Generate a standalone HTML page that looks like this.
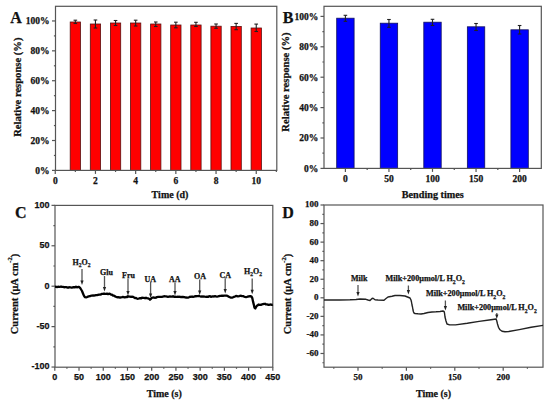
<!DOCTYPE html>
<html><head><meta charset="utf-8"><style>
html,body{margin:0;padding:0;background:#fff;}
body{width:550px;height:404px;overflow:hidden;}
svg{display:block;}
text{fill:#111;stroke:#111;stroke-width:0.25px;}
</style></head><body>
<svg width="550" height="404" viewBox="0 0 550 404">
<rect width="550" height="404" fill="#fff"/>
<rect x="70.20" y="22.00" width="10.30" height="148.40" fill="#ff0000" stroke="#5a1010" stroke-width="0.8"/>
<line x1="75.35" y1="20.20" x2="75.35" y2="23.50" stroke="#222" stroke-width="1.1"/>
<line x1="73.55" y1="20.20" x2="77.15" y2="20.20" stroke="#222" stroke-width="1.1"/>
<line x1="73.55" y1="23.50" x2="77.15" y2="23.50" stroke="#222" stroke-width="1.1"/>
<rect x="90.30" y="24.00" width="10.30" height="146.40" fill="#ff0000" stroke="#5a1010" stroke-width="0.8"/>
<line x1="95.45" y1="20.00" x2="95.45" y2="28.00" stroke="#222" stroke-width="1.1"/>
<line x1="93.65" y1="20.00" x2="97.25" y2="20.00" stroke="#222" stroke-width="1.1"/>
<line x1="93.65" y1="28.00" x2="97.25" y2="28.00" stroke="#222" stroke-width="1.1"/>
<rect x="110.40" y="23.00" width="10.30" height="147.40" fill="#ff0000" stroke="#5a1010" stroke-width="0.8"/>
<line x1="115.55" y1="20.50" x2="115.55" y2="25.50" stroke="#222" stroke-width="1.1"/>
<line x1="113.75" y1="20.50" x2="117.35" y2="20.50" stroke="#222" stroke-width="1.1"/>
<line x1="113.75" y1="25.50" x2="117.35" y2="25.50" stroke="#222" stroke-width="1.1"/>
<rect x="130.50" y="23.00" width="10.30" height="147.40" fill="#ff0000" stroke="#5a1010" stroke-width="0.8"/>
<line x1="135.65" y1="20.20" x2="135.65" y2="26.00" stroke="#222" stroke-width="1.1"/>
<line x1="133.85" y1="20.20" x2="137.45" y2="20.20" stroke="#222" stroke-width="1.1"/>
<line x1="133.85" y1="26.00" x2="137.45" y2="26.00" stroke="#222" stroke-width="1.1"/>
<rect x="150.60" y="24.00" width="10.30" height="146.40" fill="#ff0000" stroke="#5a1010" stroke-width="0.8"/>
<line x1="155.75" y1="22.00" x2="155.75" y2="26.50" stroke="#222" stroke-width="1.1"/>
<line x1="153.95" y1="22.00" x2="157.55" y2="22.00" stroke="#222" stroke-width="1.1"/>
<line x1="153.95" y1="26.50" x2="157.55" y2="26.50" stroke="#222" stroke-width="1.1"/>
<rect x="170.70" y="25.00" width="10.30" height="145.40" fill="#ff0000" stroke="#5a1010" stroke-width="0.8"/>
<line x1="175.85" y1="22.20" x2="175.85" y2="27.80" stroke="#222" stroke-width="1.1"/>
<line x1="174.05" y1="22.20" x2="177.65" y2="22.20" stroke="#222" stroke-width="1.1"/>
<line x1="174.05" y1="27.80" x2="177.65" y2="27.80" stroke="#222" stroke-width="1.1"/>
<rect x="190.80" y="25.00" width="10.30" height="145.40" fill="#ff0000" stroke="#5a1010" stroke-width="0.8"/>
<line x1="195.95" y1="22.30" x2="195.95" y2="26.50" stroke="#222" stroke-width="1.1"/>
<line x1="194.15" y1="22.30" x2="197.75" y2="22.30" stroke="#222" stroke-width="1.1"/>
<line x1="194.15" y1="26.50" x2="197.75" y2="26.50" stroke="#222" stroke-width="1.1"/>
<rect x="210.90" y="26.20" width="10.30" height="144.20" fill="#ff0000" stroke="#5a1010" stroke-width="0.8"/>
<line x1="216.05" y1="24.00" x2="216.05" y2="28.30" stroke="#222" stroke-width="1.1"/>
<line x1="214.25" y1="24.00" x2="217.85" y2="24.00" stroke="#222" stroke-width="1.1"/>
<line x1="214.25" y1="28.30" x2="217.85" y2="28.30" stroke="#222" stroke-width="1.1"/>
<rect x="231.00" y="26.40" width="10.30" height="144.00" fill="#ff0000" stroke="#5a1010" stroke-width="0.8"/>
<line x1="236.15" y1="23.40" x2="236.15" y2="29.70" stroke="#222" stroke-width="1.1"/>
<line x1="234.35" y1="23.40" x2="237.95" y2="23.40" stroke="#222" stroke-width="1.1"/>
<line x1="234.35" y1="29.70" x2="237.95" y2="29.70" stroke="#222" stroke-width="1.1"/>
<rect x="251.10" y="28.00" width="10.30" height="142.40" fill="#ff0000" stroke="#5a1010" stroke-width="0.8"/>
<line x1="256.25" y1="24.10" x2="256.25" y2="31.50" stroke="#222" stroke-width="1.1"/>
<line x1="254.45" y1="24.10" x2="258.05" y2="24.10" stroke="#222" stroke-width="1.1"/>
<line x1="254.45" y1="31.50" x2="258.05" y2="31.50" stroke="#222" stroke-width="1.1"/>
<rect x="55.50" y="6.30" width="221.30" height="164.10" fill="none" stroke="#555" stroke-width="1.2"/>
<line x1="52.00" y1="170.40" x2="55.50" y2="170.40" stroke="#555" stroke-width="1.2"/>
<text x="49.50" y="173.70" font-size="9.5" text-anchor="end" font-family='"Liberation Serif", serif' font-weight="bold" >0%</text>
<line x1="52.00" y1="140.51" x2="55.50" y2="140.51" stroke="#555" stroke-width="1.2"/>
<text x="49.50" y="143.81" font-size="9.5" text-anchor="end" font-family='"Liberation Serif", serif' font-weight="bold" >20%</text>
<line x1="52.00" y1="110.62" x2="55.50" y2="110.62" stroke="#555" stroke-width="1.2"/>
<text x="49.50" y="113.92" font-size="9.5" text-anchor="end" font-family='"Liberation Serif", serif' font-weight="bold" >40%</text>
<line x1="52.00" y1="80.73" x2="55.50" y2="80.73" stroke="#555" stroke-width="1.2"/>
<text x="49.50" y="84.03" font-size="9.5" text-anchor="end" font-family='"Liberation Serif", serif' font-weight="bold" >60%</text>
<line x1="52.00" y1="50.84" x2="55.50" y2="50.84" stroke="#555" stroke-width="1.2"/>
<text x="49.50" y="54.14" font-size="9.5" text-anchor="end" font-family='"Liberation Serif", serif' font-weight="bold" >80%</text>
<line x1="52.00" y1="20.95" x2="55.50" y2="20.95" stroke="#555" stroke-width="1.2"/>
<text x="49.50" y="24.25" font-size="9.5" text-anchor="end" font-family='"Liberation Serif", serif' font-weight="bold" >100%</text>
<line x1="53.90" y1="155.46" x2="55.50" y2="155.46" stroke="#555" stroke-width="1.2"/>
<line x1="53.90" y1="125.56" x2="55.50" y2="125.56" stroke="#555" stroke-width="1.2"/>
<line x1="53.90" y1="95.68" x2="55.50" y2="95.68" stroke="#555" stroke-width="1.2"/>
<line x1="53.90" y1="65.79" x2="55.50" y2="65.79" stroke="#555" stroke-width="1.2"/>
<line x1="53.90" y1="35.90" x2="55.50" y2="35.90" stroke="#555" stroke-width="1.2"/>
<line x1="55.25" y1="170.40" x2="55.25" y2="173.90" stroke="#555" stroke-width="1.2"/>
<text x="55.25" y="184.00" font-size="9.5" text-anchor="middle" font-family='"Liberation Serif", serif' font-weight="bold" >0</text>
<line x1="95.45" y1="170.40" x2="95.45" y2="173.90" stroke="#555" stroke-width="1.2"/>
<text x="95.45" y="184.00" font-size="9.5" text-anchor="middle" font-family='"Liberation Serif", serif' font-weight="bold" >2</text>
<line x1="135.65" y1="170.40" x2="135.65" y2="173.90" stroke="#555" stroke-width="1.2"/>
<text x="135.65" y="184.00" font-size="9.5" text-anchor="middle" font-family='"Liberation Serif", serif' font-weight="bold" >4</text>
<line x1="175.85" y1="170.40" x2="175.85" y2="173.90" stroke="#555" stroke-width="1.2"/>
<text x="175.85" y="184.00" font-size="9.5" text-anchor="middle" font-family='"Liberation Serif", serif' font-weight="bold" >6</text>
<line x1="216.05" y1="170.40" x2="216.05" y2="173.90" stroke="#555" stroke-width="1.2"/>
<text x="216.05" y="184.00" font-size="9.5" text-anchor="middle" font-family='"Liberation Serif", serif' font-weight="bold" >8</text>
<line x1="256.25" y1="170.40" x2="256.25" y2="173.90" stroke="#555" stroke-width="1.2"/>
<text x="256.25" y="184.00" font-size="9.5" text-anchor="middle" font-family='"Liberation Serif", serif' font-weight="bold" >10</text>
<line x1="75.35" y1="170.40" x2="75.35" y2="172.00" stroke="#555" stroke-width="1.2"/>
<line x1="115.55" y1="170.40" x2="115.55" y2="172.00" stroke="#555" stroke-width="1.2"/>
<line x1="155.75" y1="170.40" x2="155.75" y2="172.00" stroke="#555" stroke-width="1.2"/>
<line x1="195.95" y1="170.40" x2="195.95" y2="172.00" stroke="#555" stroke-width="1.2"/>
<line x1="236.15" y1="170.40" x2="236.15" y2="172.00" stroke="#555" stroke-width="1.2"/>
<line x1="276.35" y1="170.40" x2="276.35" y2="172.00" stroke="#555" stroke-width="1.2"/>
<text x="170.00" y="198.30" font-size="10" text-anchor="middle" font-family='"Liberation Serif", serif' font-weight="bold" >Time (d)</text>
<text x="21.10" y="87.20" font-size="10.6" text-anchor="middle" font-family='"Liberation Serif", serif' font-weight="bold" transform="rotate(-90 21.1 87.2)">Relative response (%)</text>
<text x="16.00" y="23.00" font-size="16" text-anchor="middle" font-family='"Liberation Serif", serif' font-weight="bold" >A</text>
<rect x="336.70" y="18.20" width="17.40" height="150.20" fill="#0000ff" stroke="#101060" stroke-width="0.8"/>
<line x1="345.40" y1="15.30" x2="345.40" y2="21.30" stroke="#222" stroke-width="1.1"/>
<line x1="343.60" y1="15.30" x2="347.20" y2="15.30" stroke="#222" stroke-width="1.1"/>
<line x1="343.60" y1="21.30" x2="347.20" y2="21.30" stroke="#222" stroke-width="1.1"/>
<rect x="380.25" y="23.20" width="17.40" height="145.20" fill="#0000ff" stroke="#101060" stroke-width="0.8"/>
<line x1="388.95" y1="19.50" x2="388.95" y2="27.30" stroke="#222" stroke-width="1.1"/>
<line x1="387.15" y1="19.50" x2="390.75" y2="19.50" stroke="#222" stroke-width="1.1"/>
<line x1="387.15" y1="27.30" x2="390.75" y2="27.30" stroke="#222" stroke-width="1.1"/>
<rect x="423.80" y="22.20" width="17.40" height="146.20" fill="#0000ff" stroke="#101060" stroke-width="0.8"/>
<line x1="432.50" y1="19.30" x2="432.50" y2="25.50" stroke="#222" stroke-width="1.1"/>
<line x1="430.70" y1="19.30" x2="434.30" y2="19.30" stroke="#222" stroke-width="1.1"/>
<line x1="430.70" y1="25.50" x2="434.30" y2="25.50" stroke="#222" stroke-width="1.1"/>
<rect x="467.35" y="26.80" width="17.40" height="141.60" fill="#0000ff" stroke="#101060" stroke-width="0.8"/>
<line x1="476.05" y1="23.50" x2="476.05" y2="30.50" stroke="#222" stroke-width="1.1"/>
<line x1="474.25" y1="23.50" x2="477.85" y2="23.50" stroke="#222" stroke-width="1.1"/>
<line x1="474.25" y1="30.50" x2="477.85" y2="30.50" stroke="#222" stroke-width="1.1"/>
<rect x="510.90" y="29.80" width="17.40" height="138.60" fill="#0000ff" stroke="#101060" stroke-width="0.8"/>
<line x1="519.60" y1="25.50" x2="519.60" y2="34.00" stroke="#222" stroke-width="1.1"/>
<line x1="517.80" y1="25.50" x2="521.40" y2="25.50" stroke="#222" stroke-width="1.1"/>
<line x1="517.80" y1="34.00" x2="521.40" y2="34.00" stroke="#222" stroke-width="1.1"/>
<rect x="324.00" y="6.30" width="217.30" height="162.10" fill="none" stroke="#555" stroke-width="1.2"/>
<line x1="320.50" y1="168.40" x2="324.00" y2="168.40" stroke="#555" stroke-width="1.2"/>
<text x="318.30" y="171.70" font-size="9.5" text-anchor="end" font-family='"Liberation Serif", serif' font-weight="bold" >0%</text>
<line x1="320.50" y1="138.00" x2="324.00" y2="138.00" stroke="#555" stroke-width="1.2"/>
<text x="318.30" y="141.30" font-size="9.5" text-anchor="end" font-family='"Liberation Serif", serif' font-weight="bold" >20%</text>
<line x1="320.50" y1="107.60" x2="324.00" y2="107.60" stroke="#555" stroke-width="1.2"/>
<text x="318.30" y="110.90" font-size="9.5" text-anchor="end" font-family='"Liberation Serif", serif' font-weight="bold" >40%</text>
<line x1="320.50" y1="77.20" x2="324.00" y2="77.20" stroke="#555" stroke-width="1.2"/>
<text x="318.30" y="80.50" font-size="9.5" text-anchor="end" font-family='"Liberation Serif", serif' font-weight="bold" >60%</text>
<line x1="320.50" y1="46.80" x2="324.00" y2="46.80" stroke="#555" stroke-width="1.2"/>
<text x="318.30" y="50.10" font-size="9.5" text-anchor="end" font-family='"Liberation Serif", serif' font-weight="bold" >80%</text>
<line x1="320.50" y1="16.40" x2="324.00" y2="16.40" stroke="#555" stroke-width="1.2"/>
<text x="318.30" y="19.70" font-size="9.5" text-anchor="end" font-family='"Liberation Serif", serif' font-weight="bold" >100%</text>
<line x1="322.40" y1="153.20" x2="324.00" y2="153.20" stroke="#555" stroke-width="1.2"/>
<line x1="322.40" y1="122.80" x2="324.00" y2="122.80" stroke="#555" stroke-width="1.2"/>
<line x1="322.40" y1="92.40" x2="324.00" y2="92.40" stroke="#555" stroke-width="1.2"/>
<line x1="322.40" y1="62.00" x2="324.00" y2="62.00" stroke="#555" stroke-width="1.2"/>
<line x1="322.40" y1="31.60" x2="324.00" y2="31.60" stroke="#555" stroke-width="1.2"/>
<line x1="345.40" y1="168.40" x2="345.40" y2="171.90" stroke="#555" stroke-width="1.2"/>
<text x="345.40" y="181.50" font-size="9.5" text-anchor="middle" font-family='"Liberation Serif", serif' font-weight="bold" >0</text>
<line x1="388.95" y1="168.40" x2="388.95" y2="171.90" stroke="#555" stroke-width="1.2"/>
<text x="388.95" y="181.50" font-size="9.5" text-anchor="middle" font-family='"Liberation Serif", serif' font-weight="bold" >50</text>
<line x1="432.50" y1="168.40" x2="432.50" y2="171.90" stroke="#555" stroke-width="1.2"/>
<text x="432.50" y="181.50" font-size="9.5" text-anchor="middle" font-family='"Liberation Serif", serif' font-weight="bold" >100</text>
<line x1="476.05" y1="168.40" x2="476.05" y2="171.90" stroke="#555" stroke-width="1.2"/>
<text x="476.05" y="181.50" font-size="9.5" text-anchor="middle" font-family='"Liberation Serif", serif' font-weight="bold" >150</text>
<line x1="519.60" y1="168.40" x2="519.60" y2="171.90" stroke="#555" stroke-width="1.2"/>
<text x="519.60" y="181.50" font-size="9.5" text-anchor="middle" font-family='"Liberation Serif", serif' font-weight="bold" >200</text>
<line x1="367.17" y1="168.40" x2="367.17" y2="170.00" stroke="#555" stroke-width="1.2"/>
<line x1="410.72" y1="168.40" x2="410.72" y2="170.00" stroke="#555" stroke-width="1.2"/>
<line x1="454.27" y1="168.40" x2="454.27" y2="170.00" stroke="#555" stroke-width="1.2"/>
<line x1="497.82" y1="168.40" x2="497.82" y2="170.00" stroke="#555" stroke-width="1.2"/>
<text x="432.80" y="198.00" font-size="10.2" text-anchor="middle" font-family='"Liberation Serif", serif' font-weight="bold" >Bending times</text>
<text x="289.10" y="82.00" font-size="10.6" text-anchor="middle" font-family='"Liberation Serif", serif' font-weight="bold" transform="rotate(-90 289.1 82)">Relative response (%)</text>
<text x="288.00" y="23.00" font-size="16" text-anchor="middle" font-family='"Liberation Serif", serif' font-weight="bold" >B</text>
<rect x="55.00" y="205.40" width="217.80" height="161.80" fill="none" stroke="#555" stroke-width="1.2"/>
<line x1="51.50" y1="367.05" x2="55.00" y2="367.05" stroke="#555" stroke-width="1.2"/>
<text x="49.50" y="369.45" font-size="9" text-anchor="end" font-family='"Liberation Sans", sans-serif' font-weight="bold" >-100</text>
<line x1="51.50" y1="326.62" x2="55.00" y2="326.62" stroke="#555" stroke-width="1.2"/>
<text x="49.50" y="329.02" font-size="9" text-anchor="end" font-family='"Liberation Sans", sans-serif' font-weight="bold" >-50</text>
<line x1="51.50" y1="286.20" x2="55.00" y2="286.20" stroke="#555" stroke-width="1.2"/>
<text x="49.50" y="288.60" font-size="9" text-anchor="end" font-family='"Liberation Sans", sans-serif' font-weight="bold" >0</text>
<line x1="51.50" y1="245.77" x2="55.00" y2="245.77" stroke="#555" stroke-width="1.2"/>
<text x="49.50" y="248.17" font-size="9" text-anchor="end" font-family='"Liberation Sans", sans-serif' font-weight="bold" >50</text>
<line x1="51.50" y1="205.35" x2="55.00" y2="205.35" stroke="#555" stroke-width="1.2"/>
<text x="49.50" y="207.75" font-size="9" text-anchor="end" font-family='"Liberation Sans", sans-serif' font-weight="bold" >100</text>
<line x1="53.40" y1="346.84" x2="55.00" y2="346.84" stroke="#555" stroke-width="1.2"/>
<line x1="53.40" y1="306.41" x2="55.00" y2="306.41" stroke="#555" stroke-width="1.2"/>
<line x1="53.40" y1="265.99" x2="55.00" y2="265.99" stroke="#555" stroke-width="1.2"/>
<line x1="53.40" y1="225.56" x2="55.00" y2="225.56" stroke="#555" stroke-width="1.2"/>
<line x1="54.80" y1="367.20" x2="54.80" y2="370.70" stroke="#555" stroke-width="1.2"/>
<text x="54.80" y="380.30" font-size="9" text-anchor="middle" font-family='"Liberation Sans", sans-serif' font-weight="bold" >0</text>
<line x1="79.02" y1="367.20" x2="79.02" y2="370.70" stroke="#555" stroke-width="1.2"/>
<text x="79.02" y="380.30" font-size="9" text-anchor="middle" font-family='"Liberation Sans", sans-serif' font-weight="bold" >50</text>
<line x1="103.25" y1="367.20" x2="103.25" y2="370.70" stroke="#555" stroke-width="1.2"/>
<text x="103.25" y="380.30" font-size="9" text-anchor="middle" font-family='"Liberation Sans", sans-serif' font-weight="bold" >100</text>
<line x1="127.47" y1="367.20" x2="127.47" y2="370.70" stroke="#555" stroke-width="1.2"/>
<text x="127.47" y="380.30" font-size="9" text-anchor="middle" font-family='"Liberation Sans", sans-serif' font-weight="bold" >150</text>
<line x1="151.70" y1="367.20" x2="151.70" y2="370.70" stroke="#555" stroke-width="1.2"/>
<text x="151.70" y="380.30" font-size="9" text-anchor="middle" font-family='"Liberation Sans", sans-serif' font-weight="bold" >200</text>
<line x1="175.93" y1="367.20" x2="175.93" y2="370.70" stroke="#555" stroke-width="1.2"/>
<text x="175.93" y="380.30" font-size="9" text-anchor="middle" font-family='"Liberation Sans", sans-serif' font-weight="bold" >250</text>
<line x1="200.15" y1="367.20" x2="200.15" y2="370.70" stroke="#555" stroke-width="1.2"/>
<text x="200.15" y="380.30" font-size="9" text-anchor="middle" font-family='"Liberation Sans", sans-serif' font-weight="bold" >300</text>
<line x1="224.38" y1="367.20" x2="224.38" y2="370.70" stroke="#555" stroke-width="1.2"/>
<text x="224.38" y="380.30" font-size="9" text-anchor="middle" font-family='"Liberation Sans", sans-serif' font-weight="bold" >350</text>
<line x1="248.60" y1="367.20" x2="248.60" y2="370.70" stroke="#555" stroke-width="1.2"/>
<text x="248.60" y="380.30" font-size="9" text-anchor="middle" font-family='"Liberation Sans", sans-serif' font-weight="bold" >400</text>
<line x1="272.82" y1="367.20" x2="272.82" y2="370.70" stroke="#555" stroke-width="1.2"/>
<text x="272.82" y="380.30" font-size="9" text-anchor="middle" font-family='"Liberation Sans", sans-serif' font-weight="bold" >450</text>
<line x1="66.91" y1="367.20" x2="66.91" y2="368.80" stroke="#555" stroke-width="1.2"/>
<line x1="91.14" y1="367.20" x2="91.14" y2="368.80" stroke="#555" stroke-width="1.2"/>
<line x1="115.36" y1="367.20" x2="115.36" y2="368.80" stroke="#555" stroke-width="1.2"/>
<line x1="139.59" y1="367.20" x2="139.59" y2="368.80" stroke="#555" stroke-width="1.2"/>
<line x1="163.81" y1="367.20" x2="163.81" y2="368.80" stroke="#555" stroke-width="1.2"/>
<line x1="188.04" y1="367.20" x2="188.04" y2="368.80" stroke="#555" stroke-width="1.2"/>
<line x1="212.26" y1="367.20" x2="212.26" y2="368.80" stroke="#555" stroke-width="1.2"/>
<line x1="236.49" y1="367.20" x2="236.49" y2="368.80" stroke="#555" stroke-width="1.2"/>
<line x1="260.71" y1="367.20" x2="260.71" y2="368.80" stroke="#555" stroke-width="1.2"/>
<text x="164.30" y="397.40" font-size="10" text-anchor="middle" font-family='"Liberation Serif", serif' font-weight="bold" >Time (s)</text>
<text x="17.60" y="294.00" font-size="10.5" text-anchor="middle" font-family='"Liberation Serif", serif' font-weight="bold" transform="rotate(-90 17.6 294)">Current (μA cm<tspan dy="-5.2" font-size="6.5">-2</tspan><tspan dy="5.2">)</tspan></text>
<text x="20.70" y="218.30" font-size="16" text-anchor="middle" font-family='"Liberation Serif", serif' font-weight="bold" >C</text>
<polyline fill="none" stroke="#000" stroke-width="2.3" stroke-linejoin="round" points="55.0,286.88 56.0,286.76 57.0,287.11 58.0,286.7 59.0,286.96 60.0,286.77 61.0,286.49 62.0,286.97 63.0,286.81 64.0,287.25 65.0,287.07 66.0,287.15 67.0,287.45 68.0,287.73 69.0,287.24 70.0,287.31 71.0,287.49 72.0,287.61 73.0,287.25 74.0,287.06 75.0,287.4 76.0,286.68 77.0,287.32 78.0,286.99 79.0,286.95 79.75,287.58 80.5,288.5 81.25,289.75 82.0,291.0 83.0,293.5 84.0,295.87 85.0,297.22 86.0,297.28 87.0,297.06 88.0,296.6 89.0,296.24 90.0,296.2 91.0,295.69 92.0,295.53 93.0,295.46 94.0,295.63 95.0,295.28 96.0,295.04 97.0,295.06 98.0,294.8 99.0,294.53 100.0,294.71 101.0,294.39 102.0,293.82 103.0,293.8 104.0,293.52 105.0,293.85 106.0,293.83 107.0,293.6 108.0,294.17 109.0,293.65 110.0,293.94 111.0,294.68 112.0,294.76 113.0,295.49 114.0,295.55 115.0,296.37 116.0,296.81 117.0,297.05 118.0,297.43 119.0,297.2 120.0,297.64 121.0,297.4 122.0,297.22 123.0,296.97 124.0,297.24 125.0,297.31 126.0,296.98 127.0,297.11 128.0,296.19 129.0,296.64 130.0,296.6 131.0,296.85 132.0,296.73 133.0,296.85 134.0,297.42 135.0,298.12 136.0,298.0 137.0,298.64 138.0,298.77 139.0,298.48 140.0,298.19 141.0,298.44 142.0,297.74 143.0,297.82 144.0,297.92 145.0,298.26 146.0,297.71 147.0,298.13 148.0,298.37 149.0,298.77 150.0,299.72 151.0,298.9 152.0,297.64 153.0,297.64 154.0,297.5 155.0,297.77 156.0,297.72 157.0,297.06 158.0,296.97 159.0,296.91 160.0,296.81 161.0,296.89 162.0,296.86 163.0,296.53 164.0,296.25 165.0,296.44 166.0,296.41 167.0,296.55 168.0,296.82 169.0,296.63 170.0,296.51 171.0,296.58 172.0,296.62 173.0,296.19 174.0,296.78 175.0,296.7 176.0,296.86 177.0,296.91 178.0,296.72 179.0,296.83 180.0,296.72 181.0,297.19 182.0,296.89 183.0,297.0 184.0,297.2 185.0,297.26 186.0,297.55 187.0,297.52 188.0,297.65 189.0,297.26 190.0,296.72 191.0,296.8 192.0,296.47 193.0,296.96 194.0,296.68 195.0,296.25 196.0,296.23 197.0,296.19 198.0,296.1 199.0,295.84 200.0,296.24 201.0,296.55 202.0,296.38 203.0,296.59 204.0,296.51 205.0,296.72 206.0,296.79 207.0,296.64 208.0,296.93 209.0,296.36 210.0,296.17 211.0,296.82 212.0,296.52 213.0,296.25 214.0,296.53 215.0,296.17 216.0,296.42 217.0,296.63 218.0,296.45 219.0,296.24 220.0,295.83 221.0,295.81 222.0,295.57 223.0,295.89 224.0,295.62 225.0,295.7 226.0,295.55 227.0,295.64 228.0,296.22 229.0,296.84 230.0,297.25 231.0,297.71 232.0,297.56 233.0,297.33 234.0,296.81 235.0,296.51 236.0,295.9 237.0,296.07 238.0,296.47 239.0,296.25 240.0,295.83 241.0,295.73 242.0,296.15 243.0,296.03 244.0,296.61 245.0,296.84 246.0,297.02 247.0,296.81 248.0,296.5 249.0,296.31 250.0,296.09 250.75,296.19 251.5,296.59 252.3,298.1 253.0,301.4 253.8,304.6 254.5,307.78 255.3,308.54 256.0,307.09 257.0,305.61 257.75,305.36 258.5,304.51 259.75,304.76 261.0,304.79 262.0,304.45 263.0,304.18 264.0,303.98 265.0,303.77 266.0,304.45 267.0,304.38 268.0,304.74 269.0,304.9 270.0,304.53 270.93,304.5 271.87,304.85 272.8,304.5"/>
<text x="81.50" y="265.20" font-size="8" text-anchor="middle" font-family='"Liberation Serif", serif' font-weight="bold" >H<tspan dy="2.2" font-size="5.6">2</tspan><tspan dy="-2.2">O</tspan><tspan dy="2.2" font-size="5.6">2</tspan></text>
<line x1="82" y1="269" x2="82" y2="281.0" stroke="#555" stroke-width="1.3"/>
<polygon points="80.4,280.5 83.6,280.5 82,285" fill="#222"/>
<text x="106.50" y="274.50" font-size="8" text-anchor="middle" font-family='"Liberation Serif", serif' font-weight="bold" >Glu</text>
<line x1="104.5" y1="276" x2="104.5" y2="287.5" stroke="#555" stroke-width="1.3"/>
<polygon points="102.9,287.0 106.1,287.0 104.5,291.5" fill="#222"/>
<text x="128.50" y="278.30" font-size="8" text-anchor="middle" font-family='"Liberation Serif", serif' font-weight="bold" >Fru</text>
<line x1="128" y1="278.5" x2="128" y2="291.6" stroke="#555" stroke-width="1.3"/>
<polygon points="126.4,291.1 129.6,291.1 128,295.6" fill="#222"/>
<text x="150.30" y="282.00" font-size="8" text-anchor="middle" font-family='"Liberation Serif", serif' font-weight="bold" >UA</text>
<line x1="150.6" y1="282" x2="150.6" y2="294.0" stroke="#555" stroke-width="1.3"/>
<polygon points="149.0,293.5 152.2,293.5 150.6,298" fill="#222"/>
<text x="174.80" y="282.00" font-size="8" text-anchor="middle" font-family='"Liberation Serif", serif' font-weight="bold" >AA</text>
<line x1="175" y1="282.5" x2="175" y2="291.5" stroke="#555" stroke-width="1.3"/>
<polygon points="173.4,291.0 176.6,291.0 175,295.5" fill="#222"/>
<text x="200.00" y="279.20" font-size="8" text-anchor="middle" font-family='"Liberation Serif", serif' font-weight="bold" >OA</text>
<line x1="199.7" y1="279.5" x2="199.7" y2="291.0" stroke="#555" stroke-width="1.3"/>
<polygon points="198.1,290.5 201.29999999999998,290.5 199.7,295" fill="#222"/>
<text x="225.30" y="278.40" font-size="8" text-anchor="middle" font-family='"Liberation Serif", serif' font-weight="bold" >CA</text>
<line x1="225.2" y1="278.3" x2="225.2" y2="289.5" stroke="#555" stroke-width="1.3"/>
<polygon points="223.6,289.0 226.79999999999998,289.0 225.2,293.5" fill="#222"/>
<text x="253.00" y="273.60" font-size="8" text-anchor="middle" font-family='"Liberation Serif", serif' font-weight="bold" >H<tspan dy="2.2" font-size="5.6">2</tspan><tspan dy="-2.2">O</tspan><tspan dy="2.2" font-size="5.6">2</tspan></text>
<line x1="252.2" y1="278.5" x2="252.2" y2="290.2" stroke="#555" stroke-width="1.3"/>
<polygon points="250.6,289.7 253.79999999999998,289.7 252.2,294.2" fill="#222"/>
<rect x="324.00" y="205.00" width="219.00" height="162.20" fill="none" stroke="#555" stroke-width="1.2"/>
<line x1="320.50" y1="353.48" x2="324.00" y2="353.48" stroke="#555" stroke-width="1.2"/>
<text x="318.60" y="355.88" font-size="9" text-anchor="end" font-family='"Liberation Serif", serif' font-weight="bold" >-60</text>
<line x1="320.50" y1="334.92" x2="324.00" y2="334.92" stroke="#555" stroke-width="1.2"/>
<text x="318.60" y="337.32" font-size="9" text-anchor="end" font-family='"Liberation Serif", serif' font-weight="bold" >-40</text>
<line x1="320.50" y1="316.36" x2="324.00" y2="316.36" stroke="#555" stroke-width="1.2"/>
<text x="318.60" y="318.76" font-size="9" text-anchor="end" font-family='"Liberation Serif", serif' font-weight="bold" >-20</text>
<line x1="320.50" y1="297.80" x2="324.00" y2="297.80" stroke="#555" stroke-width="1.2"/>
<text x="318.60" y="300.20" font-size="9" text-anchor="end" font-family='"Liberation Serif", serif' font-weight="bold" >0</text>
<line x1="320.50" y1="279.24" x2="324.00" y2="279.24" stroke="#555" stroke-width="1.2"/>
<text x="318.60" y="281.64" font-size="9" text-anchor="end" font-family='"Liberation Serif", serif' font-weight="bold" >20</text>
<line x1="320.50" y1="260.68" x2="324.00" y2="260.68" stroke="#555" stroke-width="1.2"/>
<text x="318.60" y="263.08" font-size="9" text-anchor="end" font-family='"Liberation Serif", serif' font-weight="bold" >40</text>
<line x1="320.50" y1="242.12" x2="324.00" y2="242.12" stroke="#555" stroke-width="1.2"/>
<text x="318.60" y="244.52" font-size="9" text-anchor="end" font-family='"Liberation Serif", serif' font-weight="bold" >60</text>
<line x1="320.50" y1="223.56" x2="324.00" y2="223.56" stroke="#555" stroke-width="1.2"/>
<text x="318.60" y="225.96" font-size="9" text-anchor="end" font-family='"Liberation Serif", serif' font-weight="bold" >80</text>
<line x1="320.50" y1="205.00" x2="324.00" y2="205.00" stroke="#555" stroke-width="1.2"/>
<text x="318.60" y="207.40" font-size="9" text-anchor="end" font-family='"Liberation Serif", serif' font-weight="bold" >100</text>
<line x1="322.40" y1="362.76" x2="324.00" y2="362.76" stroke="#555" stroke-width="1.2"/>
<line x1="322.40" y1="344.20" x2="324.00" y2="344.20" stroke="#555" stroke-width="1.2"/>
<line x1="322.40" y1="325.64" x2="324.00" y2="325.64" stroke="#555" stroke-width="1.2"/>
<line x1="322.40" y1="307.08" x2="324.00" y2="307.08" stroke="#555" stroke-width="1.2"/>
<line x1="322.40" y1="288.52" x2="324.00" y2="288.52" stroke="#555" stroke-width="1.2"/>
<line x1="322.40" y1="269.96" x2="324.00" y2="269.96" stroke="#555" stroke-width="1.2"/>
<line x1="322.40" y1="251.40" x2="324.00" y2="251.40" stroke="#555" stroke-width="1.2"/>
<line x1="322.40" y1="232.84" x2="324.00" y2="232.84" stroke="#555" stroke-width="1.2"/>
<line x1="322.40" y1="214.28" x2="324.00" y2="214.28" stroke="#555" stroke-width="1.2"/>
<line x1="358.00" y1="367.20" x2="358.00" y2="370.70" stroke="#555" stroke-width="1.2"/>
<text x="358.00" y="379.90" font-size="9" text-anchor="middle" font-family='"Liberation Serif", serif' font-weight="bold" >50</text>
<line x1="406.40" y1="367.20" x2="406.40" y2="370.70" stroke="#555" stroke-width="1.2"/>
<text x="406.40" y="379.90" font-size="9" text-anchor="middle" font-family='"Liberation Serif", serif' font-weight="bold" >100</text>
<line x1="454.80" y1="367.20" x2="454.80" y2="370.70" stroke="#555" stroke-width="1.2"/>
<text x="454.80" y="379.90" font-size="9" text-anchor="middle" font-family='"Liberation Serif", serif' font-weight="bold" >150</text>
<line x1="503.20" y1="367.20" x2="503.20" y2="370.70" stroke="#555" stroke-width="1.2"/>
<text x="503.20" y="379.90" font-size="9" text-anchor="middle" font-family='"Liberation Serif", serif' font-weight="bold" >200</text>
<line x1="333.80" y1="367.20" x2="333.80" y2="368.80" stroke="#555" stroke-width="1.2"/>
<line x1="382.20" y1="367.20" x2="382.20" y2="368.80" stroke="#555" stroke-width="1.2"/>
<line x1="430.60" y1="367.20" x2="430.60" y2="368.80" stroke="#555" stroke-width="1.2"/>
<line x1="479.00" y1="367.20" x2="479.00" y2="368.80" stroke="#555" stroke-width="1.2"/>
<line x1="527.40" y1="367.20" x2="527.40" y2="368.80" stroke="#555" stroke-width="1.2"/>
<text x="433.50" y="397.30" font-size="10" text-anchor="middle" font-family='"Liberation Serif", serif' font-weight="bold" >Time (s)</text>
<text x="291.00" y="294.00" font-size="10.5" text-anchor="middle" font-family='"Liberation Serif", serif' font-weight="bold" transform="rotate(-90 291 294)">Current (μA cm<tspan dy="-5.2" font-size="6.5">-2</tspan><tspan dy="5.2">)</tspan></text>
<text x="288.00" y="218.00" font-size="16" text-anchor="middle" font-family='"Liberation Serif", serif' font-weight="bold" >D</text>
<polyline fill="none" stroke="#222" stroke-width="1.4" stroke-linejoin="round" points="324,300 340,300 350,299.8 356,299.5 360,299 366,299.3 368,300 370,300.5 372,298.5 373,298.3 375,299.8 378,300 384,300.2 386,298.5 388,297 392,296.3 395,295.5 400,295.5 405,296 407.5,297 410,298 411,300 411.5,302 412,305 412.5,307 413,310 413.5,312 414,313 415,313.5 418,313.8 421,314 424,313.5 426,313 428,312.5 432,312 436,311.8 440,311.5 443,311 444,311.3 444.5,313 445,317 446,321 447,324 449.6,324.9 455.5,324.9 467.3,323.3 479.1,321.4 490.9,319.7 496.1,319 496.8,321 497.5,324 498.5,327.3 500,329.8 502,331.2 505,331.8 508.7,331.5 519.3,329.6 531.1,327.3 543,325.4"/>
<text x="359.30" y="280.50" font-size="8" text-anchor="middle" font-family='"Liberation Serif", serif' font-weight="bold" >Milk</text>
<line x1="358" y1="285" x2="358" y2="292.5" stroke="#555" stroke-width="1.3"/>
<polygon points="356.4,292.0 359.6,292.0 358,296.5" fill="#222"/>
<text x="385.50" y="281.20" font-size="8.2" text-anchor="start" font-family='"Liberation Serif", serif' font-weight="bold" >Milk+200μmol/L H<tspan dy="2.8" font-size="5.7">2</tspan><tspan dy="-2.8">O</tspan><tspan dy="2.8" font-size="5.7">2</tspan></text>
<line x1="408.4" y1="285.5" x2="408.4" y2="290.5" stroke="#555" stroke-width="1.3"/>
<polygon points="406.79999999999995,290.0 410.0,290.0 408.4,294.5" fill="#222"/>
<text x="426.00" y="295.80" font-size="8.2" text-anchor="start" font-family='"Liberation Serif", serif' font-weight="bold" >Milk+200μmol/L H<tspan dy="2.8" font-size="5.7">2</tspan><tspan dy="-2.8">O</tspan><tspan dy="2.8" font-size="5.7">2</tspan></text>
<line x1="445.4" y1="300.5" x2="445.4" y2="306.5" stroke="#555" stroke-width="1.3"/>
<polygon points="443.79999999999995,306.0 447.0,306.0 445.4,310.5" fill="#222"/>
<text x="457.40" y="309.90" font-size="8.2" text-anchor="start" font-family='"Liberation Serif", serif' font-weight="bold" >Milk+200μmol/L H<tspan dy="2.8" font-size="5.7">2</tspan><tspan dy="-2.8">O</tspan><tspan dy="2.8" font-size="5.7">2</tspan></text>
<line x1="496.8" y1="313" x2="496.8" y2="315.0" stroke="#555" stroke-width="1.3"/>
<polygon points="495.2,314.5 498.40000000000003,314.5 496.8,319" fill="#222"/>
</svg>
</body></html>
